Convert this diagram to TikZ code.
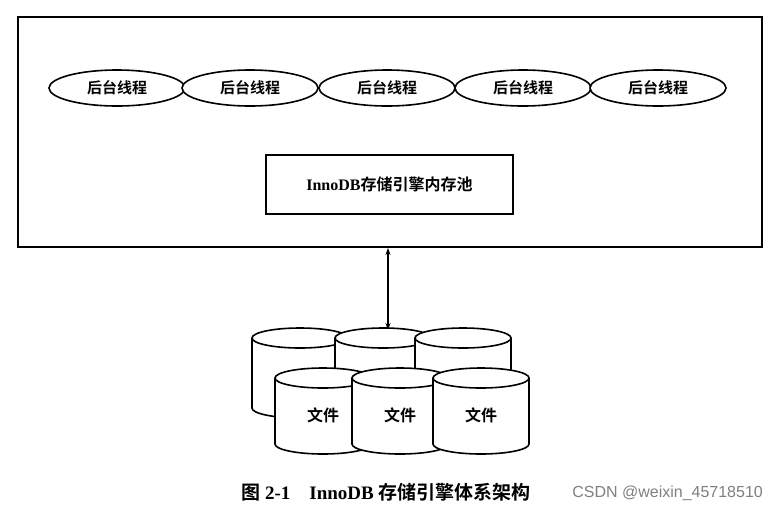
\documentclass[tikz,border=0pt]{standalone}
\usepackage{fontspec}
\setmainfont{Liberation Serif}
\newfontfamily\cjk{Noto Sans CJK SC}[BoldFont={Noto Sans CJK SC Bold}]
\usetikzlibrary{arrows.meta}
\begin{document}
\begin{tikzpicture}[x=1pt,y=-1pt,line width=1.6pt,
  lbl/.style={font=\cjk\bfseries\fontsize{16}{16}\selectfont}]
\useasboundingbox (0,0) rectangle (781,512);
\fill[white] (0,0) rectangle (781,512);
\node[draw,minimum width=744pt,minimum height=230pt,inner sep=0pt] (outer) at (390,132) {};
\foreach \x/\n in {117/a,250/b,387/c,523/d,658/e}{
  \fill[white] (\x,88) ellipse (68 and 18);
  \draw (\x,88) ellipse (68 and 18);
  \node[font=\cjk\bfseries\fontsize{15}{15}\selectfont] (t\n) at (\x,88) {后台线程};
}
\node[draw,minimum width=247pt,minimum height=59pt,font=\bfseries\fontsize{16}{16}\selectfont] (pool) at (389.5,184.5) {InnoDB{\cjk 存储引擎内存池}};
\coordinate (top) at (388,330);
\draw[{Stealth[length=7pt,width=5pt]}-{Stealth[length=7pt,width=5pt]},line width=1.1pt] (388,248) -- (top);
\foreach \x/\t/\b/\txt in {300/338/408/,383/338/408/,463/338/408/,323/378/444/文件,400/378/444/文件,481/378/444/文件}{
  \fill[white] (\x-48,\t) -- (\x-48,\b) arc[start angle=180,end angle=0,x radius=48,y radius=10] -- (\x+48,\t) arc[start angle=0,end angle=-180,x radius=48,y radius=10];
  \draw (\x-48,\t) -- (\x-48,\b) arc[start angle=180,end angle=0,x radius=48,y radius=10] -- (\x+48,\t);
  \draw (\x,\t) ellipse (48 and 10);
  \node[lbl] at (\x,415) {\txt};
}
\node[font=\bfseries\fontsize{19}{19}\selectfont] (cap) at (386,492) {{\cjk 图} 2-1\quad InnoDB {\cjk 存储引擎体系架构}};
\node[font=\fontspec{Liberation Sans}\fontsize{16}{16}\selectfont,text=gray,anchor=east] (wm) at (767,493) {CSDN @weixin\_45718510};
\end{tikzpicture}
\end{document}
